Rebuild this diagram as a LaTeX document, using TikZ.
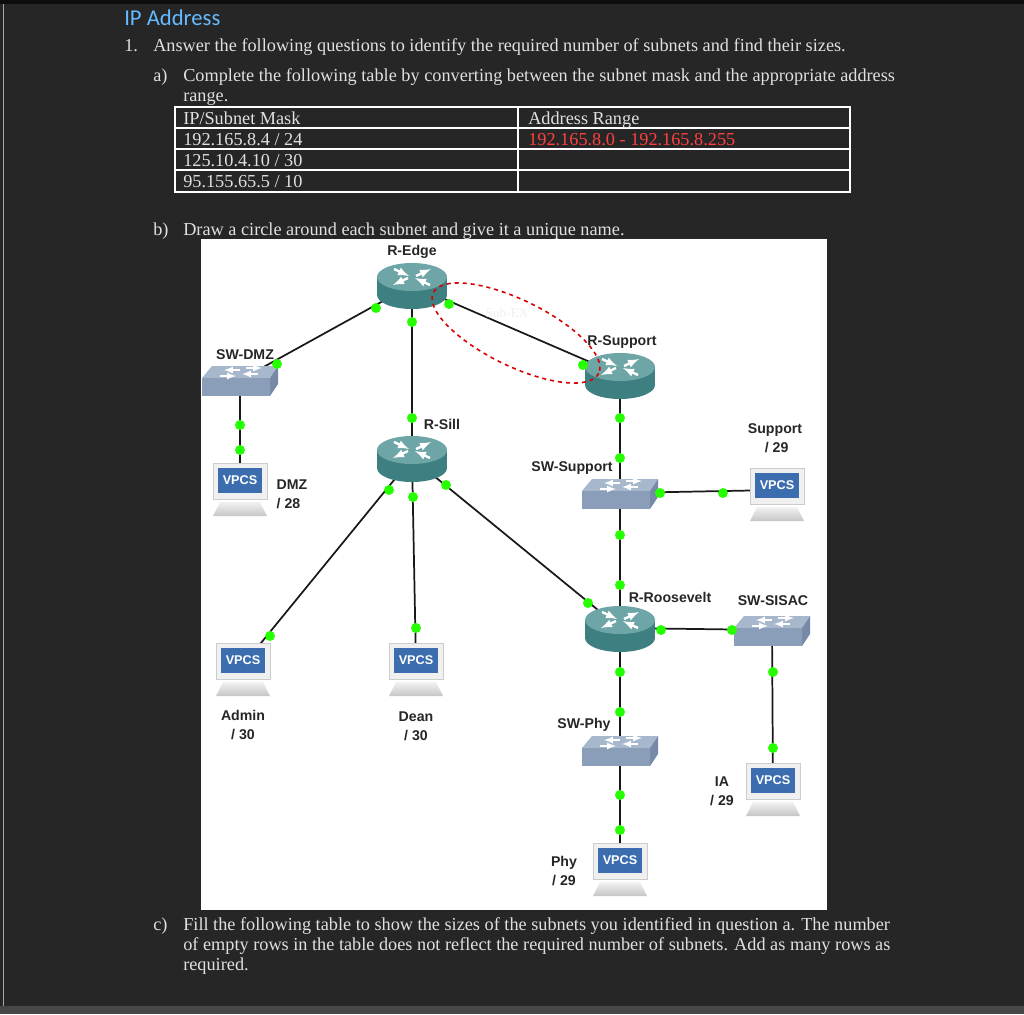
\documentclass[tikz,border=0pt]{standalone}
\usepackage{fontspec}
\setmainfont{Liberation Serif}
\newfontfamily\lbl{Liberation Sans}
\newfontfamily\ttl{Carlito}
\definecolor{swtop}{RGB}{168,184,204}
\definecolor{swfront}{RGB}{138,158,186}
\definecolor{swside}{RGB}{118,138,168}
\definecolor{rtbody}{RGB}{62,128,130}
\definecolor{rttop}{RGB}{110,165,166}
\definecolor{scr}{RGB}{60,110,175}
\begin{document}
\begin{tikzpicture}[x=0.75pt,y=-0.75pt,
  txt/.style={anchor=base west,inner sep=0,text=white!88!black,font=\fontsize{13.7}{16}\selectfont},
  lab/.style={inner sep=0,font=\lbl\bfseries\fontsize{10.6}{12}\selectfont,text=black!85},
  cell/.style={anchor=base west,inner sep=0,text=white!88!black,font=\fontsize{13.7}{16}\selectfont},
  dot/.style={circle,fill=green!80!lime,inner sep=0,minimum size=7.5pt},
  link/.style={line width=1.3pt,black!90},
  ph/.style={inner sep=0,minimum width=60pt,minimum height=30pt},
  router/.pic={
    \fill[rtbody] (0,10) ellipse (35 and 14);
    \fill[rtbody] (-35,-8) rectangle (35,10);
    \fill[rttop] (0,-8) ellipse (35 and 14);
    \draw[white,line width=1.8pt,-latex] (-18,-16) -- (-3,-9) ;
    \draw[white,line width=1.8pt,-latex] (18,0) -- (3,-7);
    \draw[white,line width=1.8pt,-latex] (-4,-7) -- (-19,0);
    \draw[white,line width=1.8pt,-latex] (4,-9) -- (19,-16);
  },
  switch/.pic={
    \fill[swtop] (-38,-2) -- (-28,-14) -- (38,-14) -- (30,-2) -- cycle;
    \fill[swfront] (-38,-2) rectangle (30,16);
    \fill[swside] (30,-2) -- (38,-14) -- (38,4) -- (30,16) -- cycle;
    \draw[white,line width=1.3pt,-latex] (-20,-4) -- (-4,-4);
    \draw[white,line width=1.3pt,-latex] (6,-12) -- (22,-12);
    \draw[white,line width=1.3pt,latex-] (-16,-10) -- (0,-10);
    \draw[white,line width=1.3pt,latex-] (2,-6) -- (18,-6);
  },
  pc/.pic={
    \fill[gray!12,draw=gray!40] (-27,-22) rectangle (27,14);
    \fill[scr] (-22,-17) rectangle (22,8);
    \node[text=white,font=\lbl\bfseries\fontsize{9.5}{10}\selectfont] at (0,-5) {VPCS};
    \shade[top color=gray!10,bottom color=gray!45] (-20,17) -- (20,17) -- (27,31) -- (-27,31) -- cycle;
  }]
% background
\fill[black!85] (0,0) rectangle (1024,1014);
\fill[black!95] (0,0) rectangle (1024,4);
\fill[black!72] (0,1006) rectangle (1024,1014);
\draw[gray!70,line width=0.6pt] (3,4) -- (3,1006);
\useasboundingbox (0,0) rectangle (1024,1014);
% header
\node[anchor=base west,inner sep=0,text=blue!45!cyan!60!white,font=\ttl\fontsize{17}{20}\selectfont] (title) at (124,25) {IP Address};
\node[txt] (n1) at (124,51) {1.};
\node[txt] (q1) at (153,51) {Answer the following questions to identify the required number of subnets and find their sizes.};
\node[txt] (na) at (153,81) {a)};
\node[txt] (qa1) at (183,81) {Complete the following table by converting between the subnet mask and the appropriate address};
\node[txt] (qa2) at (183,101) {range.};
% table
\draw[white,line width=0.8pt] (175,107) rectangle (850,192);
\foreach \yy in {128,149,170} \draw[white,line width=0.8pt] (175,\yy) -- (850,\yy);
\draw[white,line width=0.8pt] (518,107) -- (518,192);
\node[cell] (h1) at (183,124) {IP/Subnet Mask};
\node[cell] (h2) at (528,124) {Address Range};
\node[cell] (r1) at (183,145) {192.165.8.4 / 24};
\node[cell,text=red!75!white] (r1b) at (528,145) {192.165.8.0 - 192.165.8.255};
\node[cell] (r2) at (183,166) {125.10.4.10 / 30};
\node[cell] (r3) at (183,187) {95.155.65.5 / 10};
\node[txt] (nb) at (153,235) {b)};
\node[txt] (qb) at (183,235) {Draw a circle around each subnet and give it a unique name.};
% panel
\fill[white] (201,239) rectangle (827,910);
% device placeholders
\node[ph] (redge) at (412,285) {};
\node[ph] (rsup) at (620,375) {};
\node[ph] (rsill) at (412,458) {};
\node[ph] (rroos) at (620,628) {};
\node[ph] (swdmz) at (240,380) {};
\node[ph] (swsup) at (620,493) {};
\node[ph] (swsis) at (772,630) {};
\node[ph] (swphy) at (620,750) {};
\node[ph] (pcdmz) at (240,485) {};
\node[ph] (pcsup) at (777,490) {};
\node[ph] (pcadm) at (243,665) {};
\node[ph] (pcdean) at (416,665) {};
\node[ph] (pcia) at (773,785) {};
\node[ph] (pcphy) at (620,865) {};
% links
\draw[link] (redge.center) -- (swdmz.center);
\draw[link] (redge.center) -- (rsill.center);
\draw[link] (redge.center) -- (rsup.center);
\draw[link] (rsup.center) -- (swsup.center);
\draw[link] (swdmz.center) -- (pcdmz.center);
\draw[link] (rsill.center) -- (pcadm.center);
\draw[link] (rsill.center) -- (pcdean.center);
\draw[link] (rsill.center) -- (rroos.center);
\draw[link] (swsup.center) -- (pcsup.center);
\draw[link] (swsup.center) -- (rroos.center);
\draw[link] (rroos.center) -- (swsis.center);
\draw[link] (rroos.center) -- (swphy.center);
\draw[link] (swsis.center) -- (pcia.center);
\draw[link] (swphy.center) -- (pcphy.center);
% icons
\foreach \n in {redge,rsup,rsill,rroos} \pic at (\n) {router};
\foreach \n in {swdmz,swsup,swsis,swphy} \pic at (\n) {switch};
\foreach \n in {pcdmz,pcsup,pcadm,pcdean,pcia,pcphy} \pic at (\n) {pc};
% dots
\foreach \p in {(376,308),(277,364),(412,322),(412,418),(449,304),(583,365),(620,418),(620,458),
  (240,425),(240,450),(389,490),(270,636),(413,497),(416,628),(446,485),(588,603),(660,493),(723,493),
  (620,535),(620,585),(661,630),(732,630),(620,672),(620,712),(773,672),(773,748),(620,795),(620,830)}
  \node[dot] at \p {};
% subnet ellipse
\node[text=gray!12,font=\fontsize{10}{12}\selectfont] (subex) at (507,313) {Sub-EX};
\draw[red!85!black,dashed,line width=1.2pt,rotate around={-26:(516,333)}] (516,333) ellipse (92 and 33);
% labels
\node[lab] (l1) at (412,252) {R-Edge};
\node[lab] (l2) at (622,342) {R-Support};
\node[lab] (l3) at (442,424) {R-Sill};
\node[lab] (l4) at (670,597) {R-Roosevelt};
\node[lab] (l5) at (245,355) {SW-DMZ};
\node[lab] (l6) at (572,468) {SW-Support};
\node[lab] (l7) at (773,601) {SW-SISAC};
\node[lab] (l8) at (584,725) {SW-Phy};
\node[lab,align=left] (l9) at (292,494) {DMZ\\[2pt]/ 28};
\node[lab,align=left] (l10) at (775,438) {Support\\[2pt]\hspace*{1.2em}/ 29};
\node[lab,align=center] (l11) at (243,725) {Admin\\[2pt]/ 30};
\node[lab,align=center] (l12) at (416,726) {Dean\\[2pt]/ 30};
\node[lab,align=center] (l13) at (722,791) {IA\\[2pt]/ 29};
\node[lab,align=center] (l14) at (564,871) {Phy\\[2pt]/ 29};
% part c
\node[txt] (nc) at (153,930) {c)};
\node[txt] (qc1) at (183,930) {Fill the following table to show the sizes of the subnets you identified in question a. The number};
\node[txt] (qc2) at (183,950) {of empty rows in the table does not reflect the required number of subnets. Add as many rows as};
\node[txt] (qc3) at (183,970) {required.};
\end{tikzpicture}
\end{document}
